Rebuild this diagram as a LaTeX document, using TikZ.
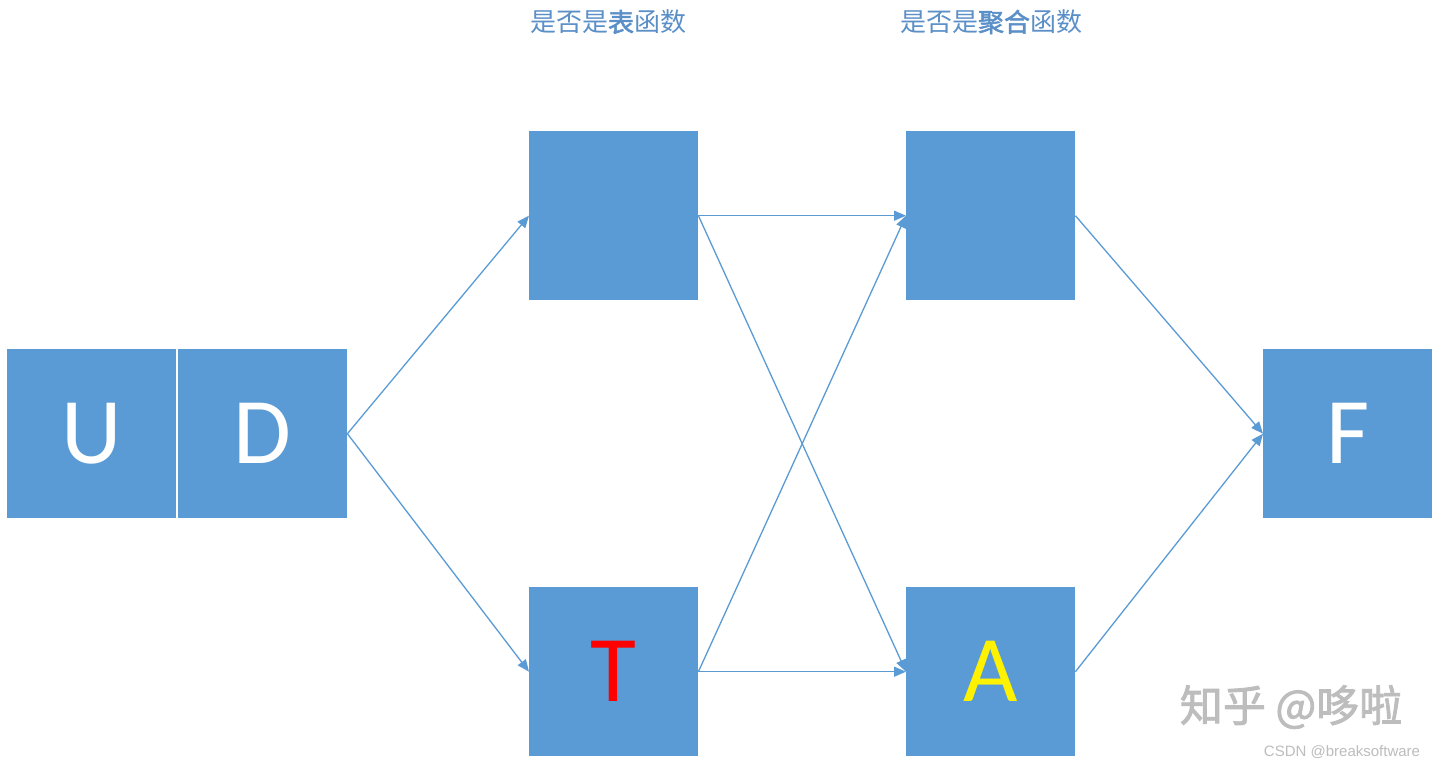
\documentclass[tikz,border=0pt]{standalone}
\usepackage{fontspec}
\setmainfont{Carlito}
\newfontfamily\cjk{Noto Sans CJK SC}
\newfontfamily\cjkb{Noto Sans CJK SC}[FakeBold=2]
\usetikzlibrary{arrows.meta}
\definecolor{boxblue}{HTML}{5B9BD5}
\definecolor{titleblue}{HTML}{5B8FC8}
\definecolor{wm}{HTML}{BDBDBD}
\tikzset{
  blk/.style={fill=boxblue, minimum width=169pt, minimum height=169pt, inner sep=0pt, anchor=north west,
    font=\fontsize{94}{94}\selectfont},
  conn/.style={draw=boxblue, line width=1.3pt, -{Triangle[length=12pt,width=10pt]}},
  ttl/.style={text=titleblue, font=\cjk\fontsize{26}{26}\selectfont, inner sep=0pt},
}
\begin{document}
\begin{tikzpicture}[x=1pt,y=-1pt]
\useasboundingbox (0,0) rectangle (1440,768);
\fill[white] (0,0) rectangle (1440,768);
\node[blk, text=white] (u) at (7,349) {U};
\node[blk, text=white] (d) at (178,349) {D};
\node[blk] (t1) at (529,131) {};
\node[blk, text=red] (t) at (529,587) {T};
\node[blk] (a1) at (906,131) {};
\node[blk, text=yellow] (a) at (906,587) {A};
\node[blk, text=white] (f) at (1263,349) {F};
\node[ttl] (l1) at (608,22) {是否是{\cjkb 表}函数};
\node[ttl] (l2) at (991,22) {是否是{\cjkb 聚合}函数};
\draw[conn] (d.east) -- (t1.west);
\draw[conn] (d.east) -- (t.west);
\draw[conn] (t1.east) -- (a1.west);
\draw[conn] (t1.east) -- (a.west);
\draw[conn] (t.east) -- (a1.west);
\draw[conn] (t.east) -- (a.west);
\draw[conn] (a1.east) -- (f.west);
\draw[conn] (a.east) -- (f.west);
\node[text=wm, font=\cjkb\fontsize{43}{43}\selectfont, inner sep=0pt] (wm1) at (1291,707) {知乎 @哆啦};
\node[text=wm, font=\fontspec{Liberation Sans}\fontsize{15}{15}\selectfont, inner sep=0pt] (wm2) at (1342,752) {CSDN @breaksoftware};
\end{tikzpicture}
\end{document}
